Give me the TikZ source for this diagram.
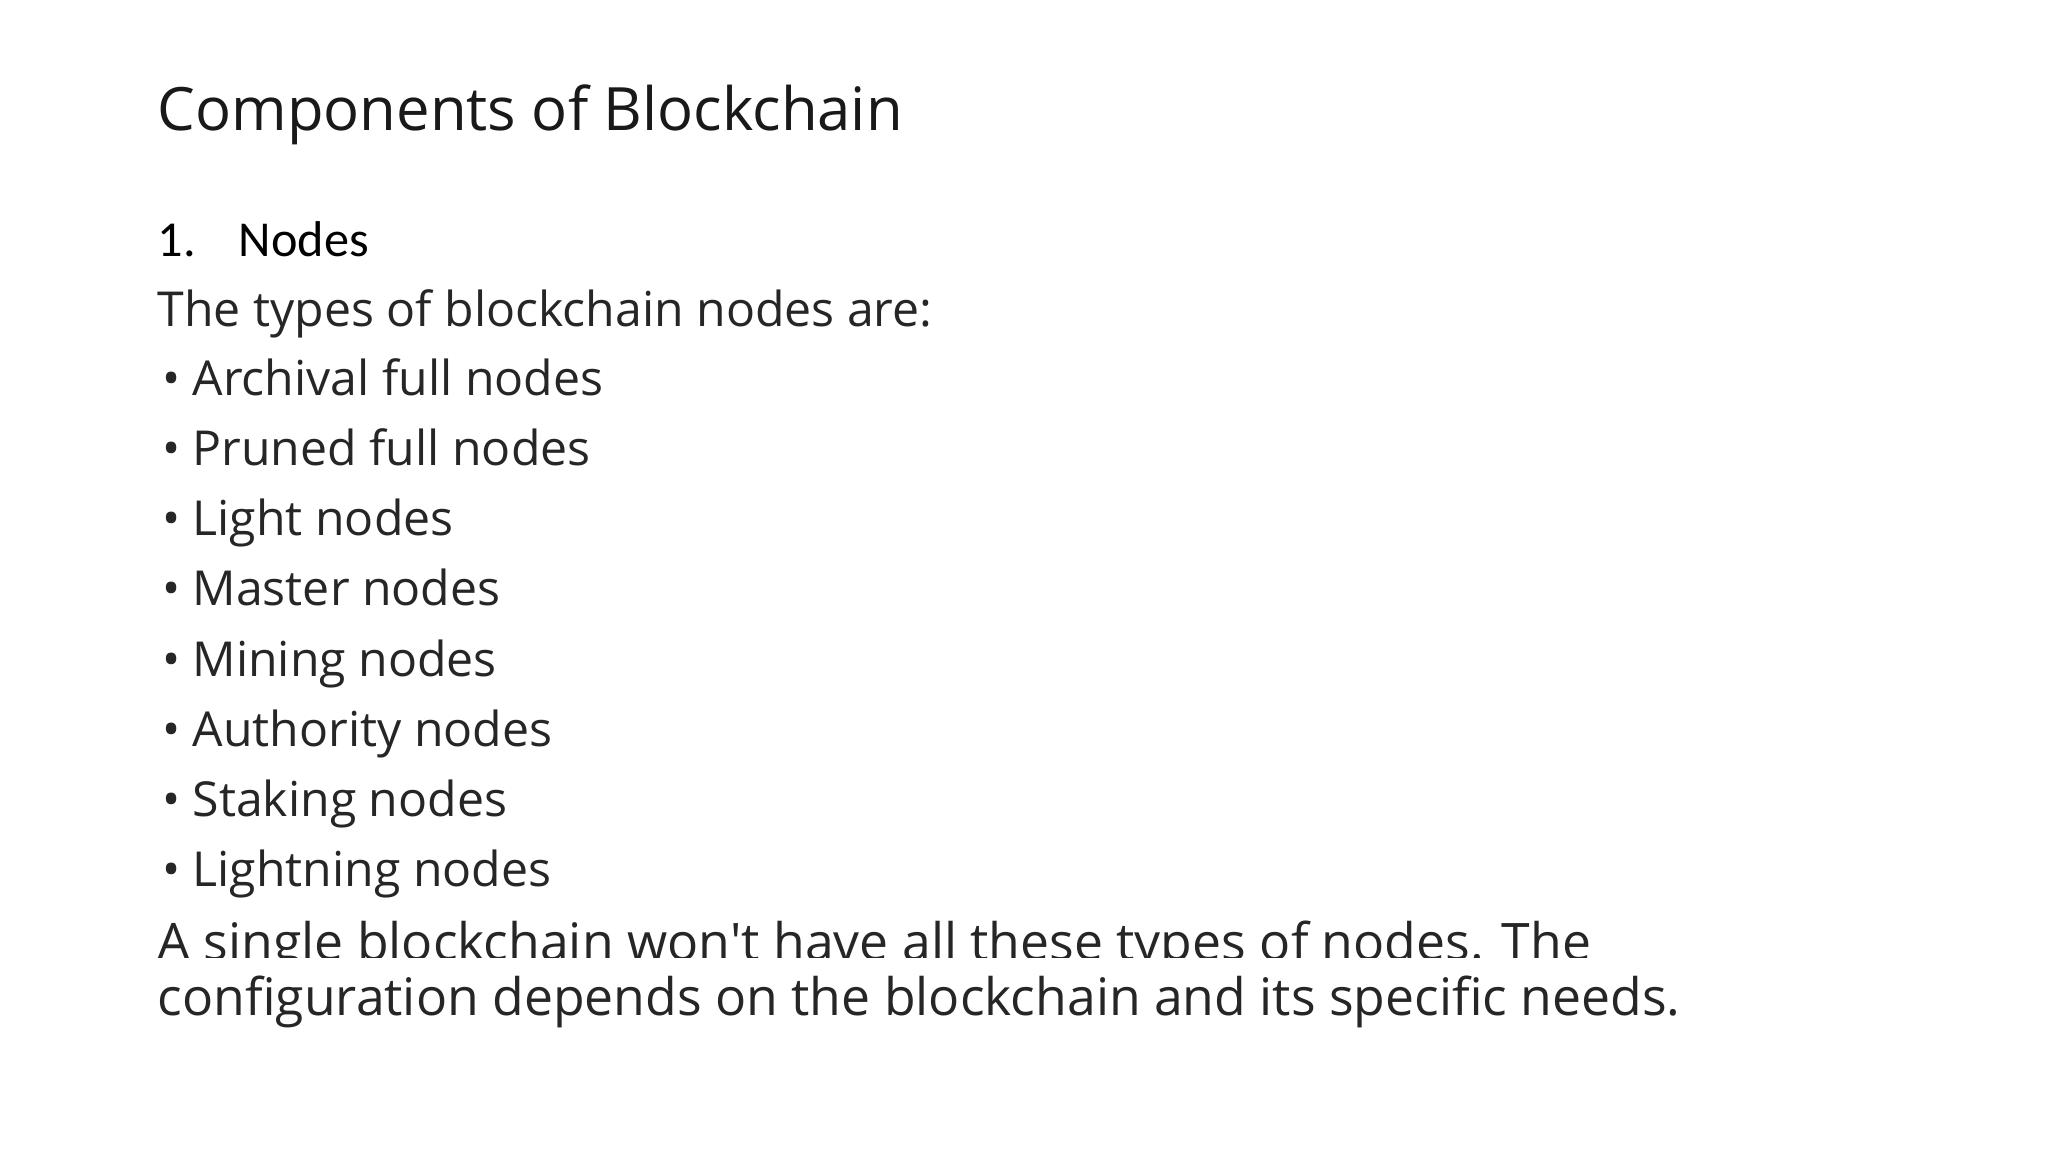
\documentclass[tikz,border=0pt]{standalone}
\usepackage{fontspec}
\setmainfont{Open Sans}
\newfontfamily\carl{Carlito}
\definecolor{txt}{HTML}{262626}
\begin{document}
\begin{tikzpicture}[x=0.01cm,y=-0.01cm,
  line/.style={anchor=base west,inner sep=0,text=txt,font=\fontsize{13.7}{16}\selectfont},
  bul/.style={anchor=base west,inner sep=0,text=txt,font=\fontsize{13.7}{16}\selectfont}]
\useasboundingbox (0,0) rectangle (2048,1152);
\fill[white] (0,0) rectangle (2048,1152);
\node[anchor=base west,inner sep=0,text=black!90,font=\fontsize{17}{20}\selectfont] (title) at (157,131) {Components of Blockchain};
\node[anchor=base west,inner sep=0,text=black,font=\carl\fontsize{14.3}{17}\selectfont] (num) at (157,257) {1.};
\node[anchor=base west,inner sep=0,text=black,font=\carl\fontsize{14.3}{17}\selectfont] (nodes) at (238,257) {Nodes};
\node[line] (types) at (157,327) {The types of blockchain nodes are:};
\foreach \t [count=\i] in {Archival full nodes,Pruned full nodes,Light nodes,Master nodes,Mining nodes,Authority nodes,Staking nodes,Lightning nodes}{
  \node[bul] (d\i) at (162,{396+70*(\i-1)}) {•};
  \node[bul] (b\i) at (192,{396+70*(\i-1)}) {\t};
}
\begin{scope}
\clip (0,900) rectangle (2048,957);
\node[anchor=base west,inner sep=0,text=txt,font=\fontsize{14.7}{17}\selectfont] (p1) at (157,960) {A single blockchain won\textquotesingle t have all these types of nodes. The};
\end{scope}
\node[anchor=base west,inner sep=0,text=txt,font=\fontsize{14.7}{17}\selectfont] (p2) at (157,1015) {configuration depends on the blockchain and its specific needs.};
\end{tikzpicture}
\end{document}
